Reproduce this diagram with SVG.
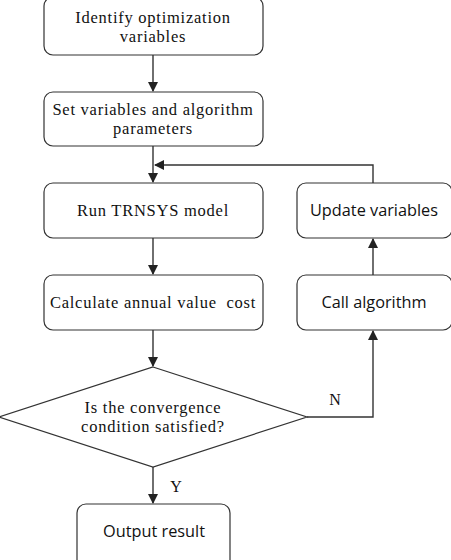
<svg xmlns="http://www.w3.org/2000/svg" width="451" height="560" viewBox="0 0 451 560">
<style>
.box{fill:#fff;stroke:#333;stroke-width:1.2}
.ser{font-family:"Liberation Serif","Times New Roman",serif;font-size:16.5px;letter-spacing:0.75px;fill:#111;text-anchor:middle}
.san{font-family:"Open Sans","DejaVu Sans",sans-serif;font-size:16.3px;fill:#111;text-anchor:middle}
.ln{fill:none;stroke:#333;stroke-width:1.4}
</style>
<defs>
<marker id="ah" markerWidth="10" markerHeight="10" refX="9" refY="5" orient="auto" markerUnits="userSpaceOnUse">
<path d="M0,0 L10,5 L0,10 Z" fill="#222"/>
</marker>
</defs>
<rect width="451" height="560" fill="#fff"/>
<g id="connectors">
<line class="ln" x1="153" y1="55" x2="153" y2="91" marker-end="url(#ah)"/>
<line class="ln" x1="153" y1="146" x2="153" y2="182" marker-end="url(#ah)"/>
<polyline class="ln" points="373,183 373,165 155,165" marker-end="url(#ah)"/>
<line class="ln" x1="153" y1="238" x2="153" y2="274" marker-end="url(#ah)"/>
<line class="ln" x1="153" y1="330" x2="153" y2="366" marker-end="url(#ah)"/>
<line class="ln" x1="373" y1="275" x2="373" y2="239" marker-end="url(#ah)"/>
<polyline class="ln" points="307,417 373,417 373,331" marker-end="url(#ah)"/>
<line class="ln" x1="153" y1="467" x2="153" y2="503" marker-end="url(#ah)"/>
<text class="ser" x="335" y="405" style="font-size:16px;letter-spacing:0">N</text>
<text class="ser" x="176" y="492" style="font-size:16px;letter-spacing:0">Y</text>
</g>
<g id="n1">
<rect class="box" x="44" y="-3" width="219" height="58" rx="9"/>
<text class="ser" x="153" y="23">Identify optimization</text>
<text class="ser" x="153" y="42">variables</text>
</g>
<g id="n2">
<rect class="box" x="44" y="92" width="219" height="54" rx="9"/>
<text class="ser" x="153" y="115">Set variables and algorithm</text>
<text class="ser" x="153" y="134">parameters</text>
</g>
<g id="n3">
<rect class="box" x="44" y="183" width="219" height="55" rx="9"/>
<text class="ser" x="153" y="216">Run TRNSYS model</text>
</g>
<g id="n4">
<rect class="box" x="44" y="275" width="219" height="55" rx="9"/>
<text class="ser" x="153" y="308" xml:space="preserve">Calculate annual value  cost</text>
</g>
<g id="n5">
<rect class="box" x="297" y="183" width="155" height="55" rx="9"/>
<text class="san" x="374" y="216">Update variables</text>
</g>
<g id="n6">
<rect class="box" x="297" y="275" width="155" height="55" rx="9"/>
<text class="san" x="374" y="308">Call algorithm</text>
</g>
<g id="n7">
<polygon class="box" points="153,367 307,417 153,467 -1,417"/>
<text class="ser" x="153" y="413">Is the convergence</text>
<text class="ser" x="153" y="432">condition satisfied?</text>
</g>
<g id="n8">
<rect class="box" x="77" y="504" width="153" height="66" rx="9"/>
<text class="san" x="154" y="537">Output result</text>
</g>
</svg>
